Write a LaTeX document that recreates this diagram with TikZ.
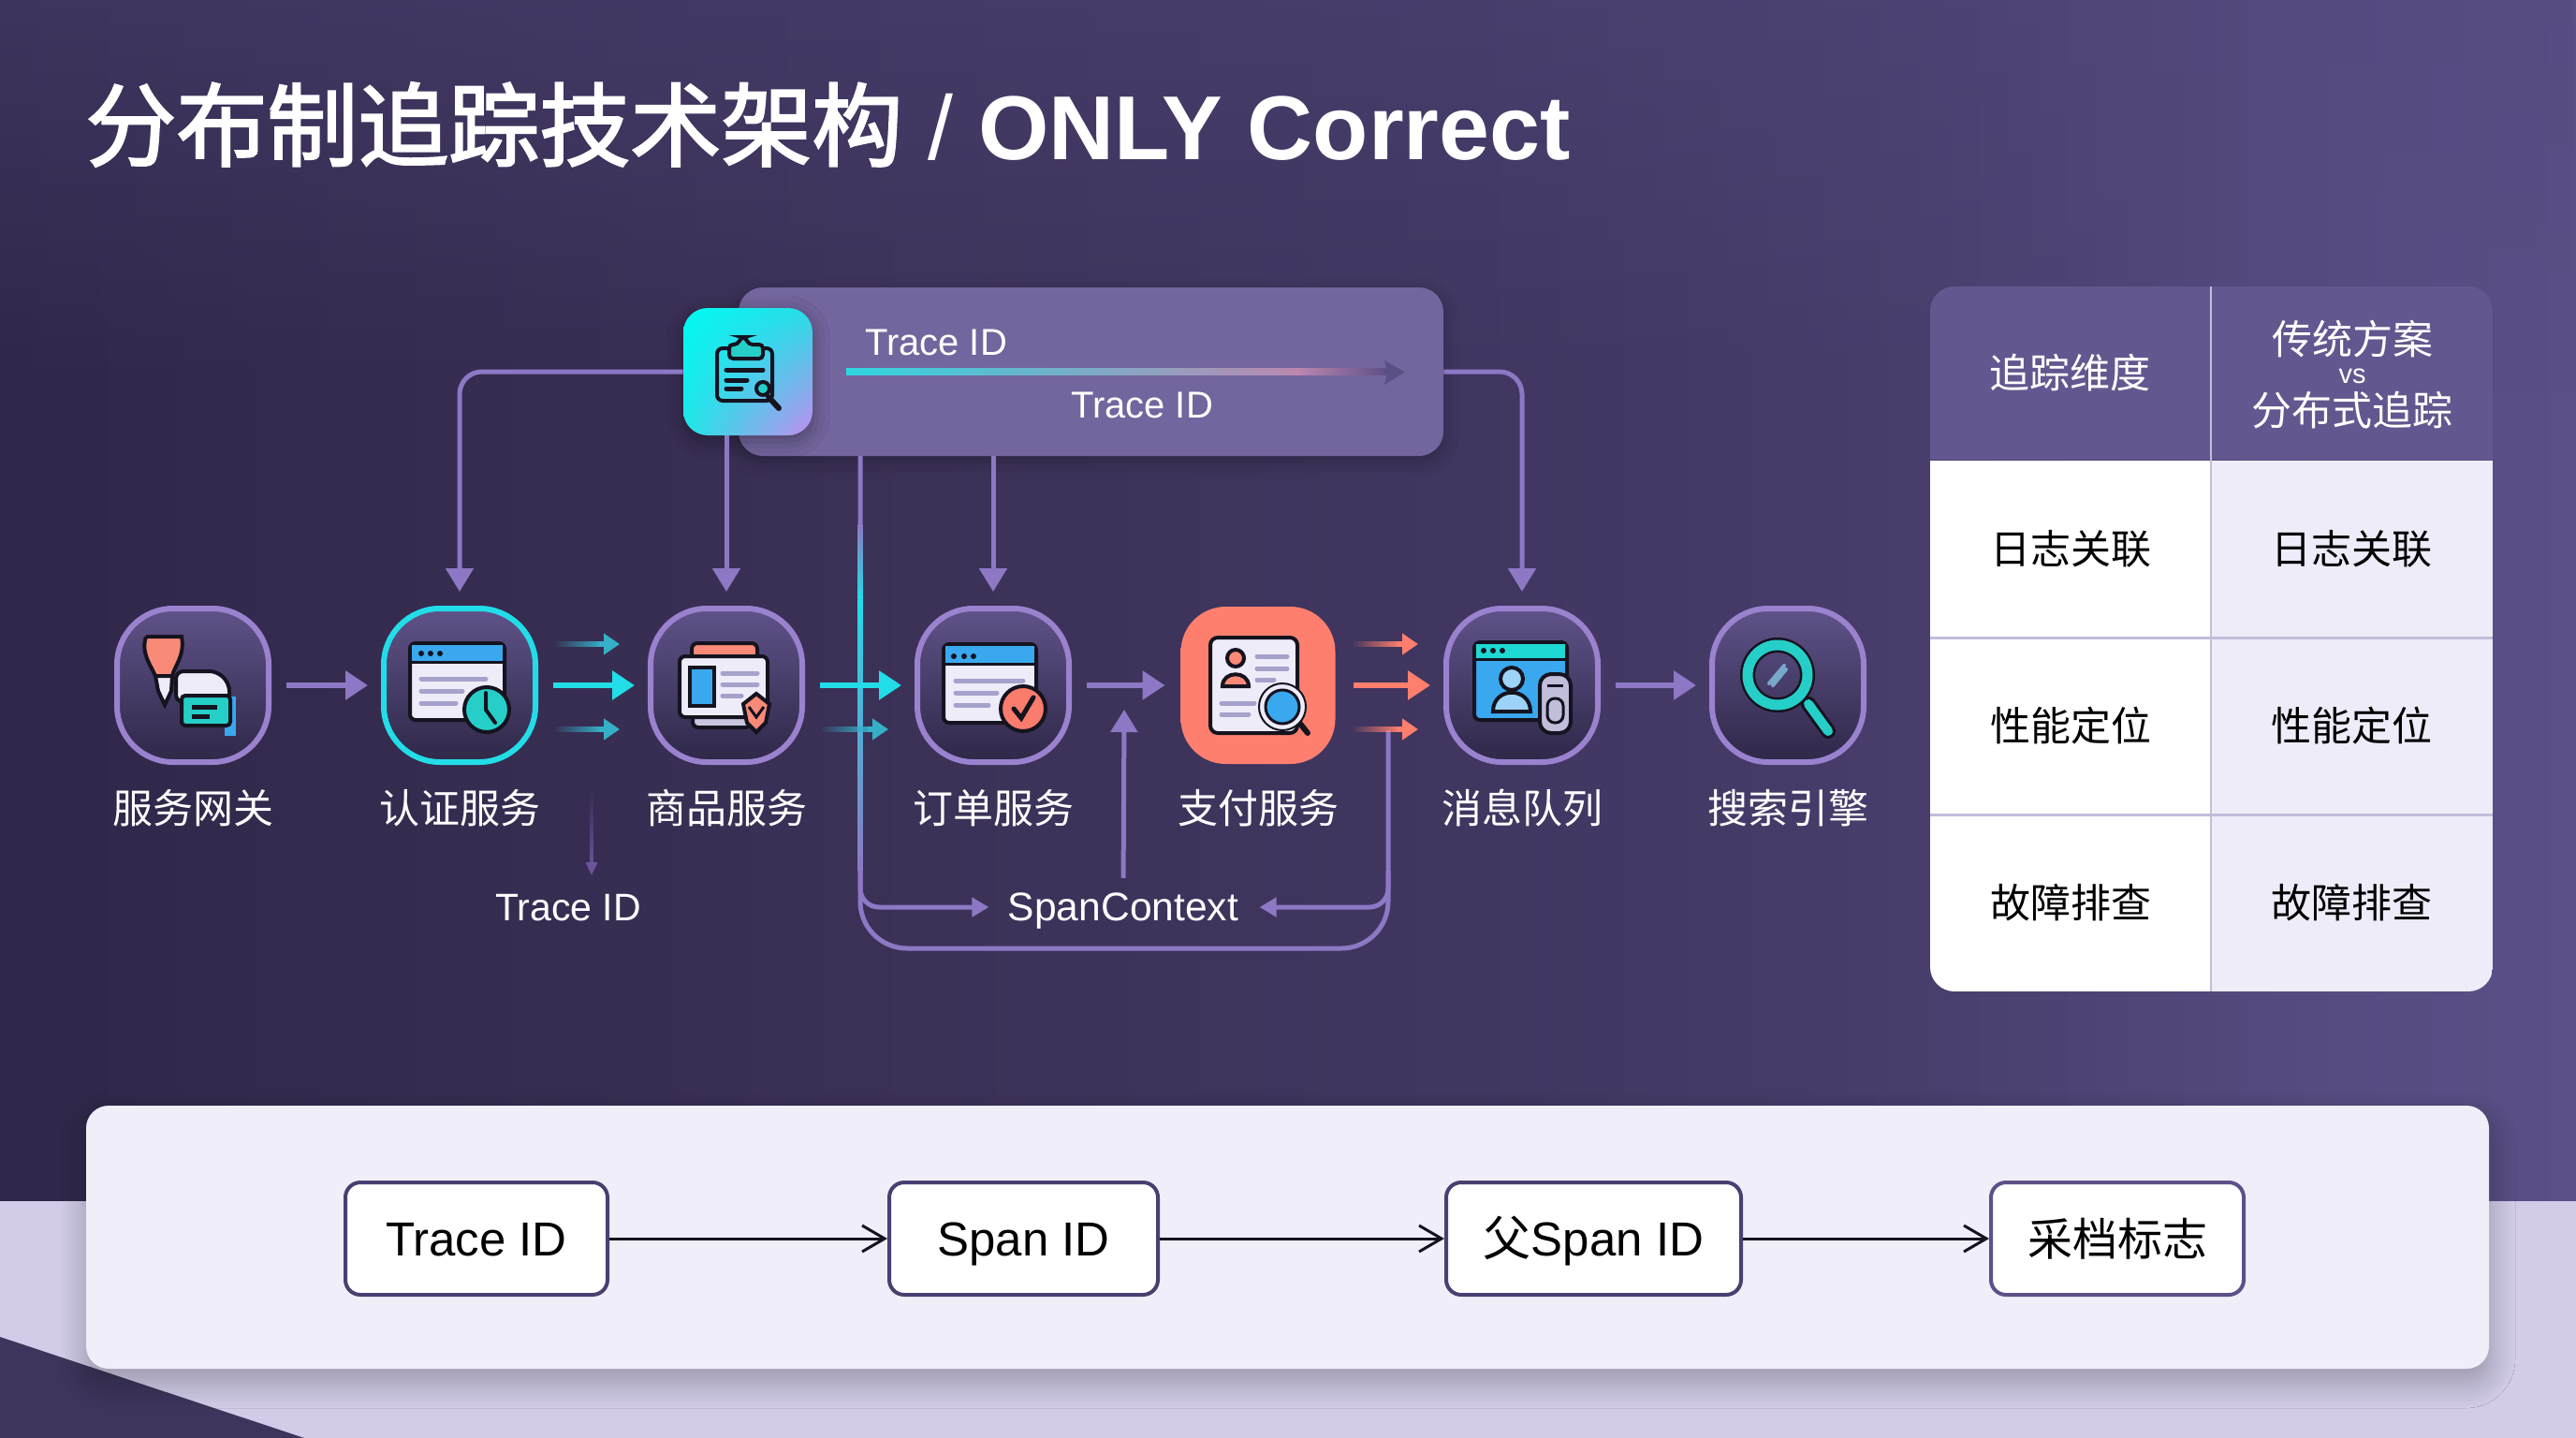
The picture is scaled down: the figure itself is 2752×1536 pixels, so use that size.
\documentclass[tikz,border=0pt]{standalone}
\usepackage{fontspec}
\setmainfont{Liberation Sans}
\newfontfamily\cjk{Noto Sans CJK SC}
\newfontfamily\cjktitle[FakeBold=2.2]{Noto Sans CJK SC}
\usetikzlibrary{arrows.meta,fadings,shadings,shadows.blur}

\definecolor{flowline}{HTML}{8C78C4}
\definecolor{flowcyan}{HTML}{22DDE8}
\definecolor{flowteal}{HTML}{35B0C8}
\definecolor{flowcoral}{HTML}{FF7F6E}
\definecolor{nodeedge}{HTML}{9A82CF}
\definecolor{nodetop}{HTML}{5F5289}
\definecolor{nodebot}{HTML}{2F2848}
\definecolor{inkdark}{HTML}{15131F}
\definecolor{winblue}{HTML}{3AA8EE}
\definecolor{winbody}{HTML}{EEECF8}
\definecolor{winline}{HTML}{A5A2CC}
\definecolor{iconteal}{HTML}{25CFC8}
\definecolor{iconcoral}{HTML}{F98A78}
\definecolor{bandcolor}{HTML}{D2CCE8}
\definecolor{boxedge}{HTML}{4A3F70}
\definecolor{bga}{HTML}{2F2749}
\definecolor{bgb}{HTML}{3C3157}
\definecolor{bgc}{HTML}{403660}
\definecolor{bgd}{HTML}{483D6B}
\definecolor{bge}{HTML}{574C82}
\definecolor{bgf}{HTML}{5A4F86}
\definecolor{bgtop}{HTML}{54497E}
\definecolor{panelfill}{HTML}{73659D}
\definecolor{headfill}{HTML}{64578F}
\definecolor{stripfill}{HTML}{F0EEF9}
\definecolor{gradmid}{HTML}{BC88B0}
\definecolor{gradend}{HTML}{5C4F86}
\definecolor{gradstart}{HTML}{30D5E0}
\definecolor{faint}{HTML}{6A559C}
\definecolor{trcorner}{HTML}{C48CF0}
\definecolor{trul}{HTML}{00FAF2}
\definecolor{trur}{HTML}{28DCE6}
\definecolor{trll}{HTML}{1EE6E6}

\pgfdeclarehorizontalshading{bgshade}{100bp}{color(0bp)=(bga); color(25bp)=(bga); color(43bp)=(bgb); color(53.5bp)=(bgc); color(62bp)=(bgd); color(70.5bp)=(bge); color(75bp)=(bgf); color(100bp)=(bgf)}

\tikzfading[name=fade in, left color=transparent!100, right color=transparent!0]
\tikzfading[name=fade down, top color=transparent!100, bottom color=transparent!0]
\tikzfading[name=fade top, top color=transparent!60, bottom color=transparent!100]

\tikzset{
	svc/.style={minimum width=81pt, minimum height=82pt, rounded corners=30pt, inner sep=0pt,
		draw=nodeedge, line width=3pt, top color=nodetop, bottom color=nodebot},
	svccyan/.style={svc, draw=flowcyan},
	svccoral/.style={svc, draw=none, top color=flowcoral, bottom color=flowcoral, minimum width=82.5pt, minimum height=84pt, rounded corners=24pt},
	cjklabel/.style={font=\cjk\fontsize{21.5}{21.5}\selectfont, text=white, inner sep=0pt, text height=19pt, text depth=2.5pt},
	latlabel/.style={font=\fontsize{20.5}{20.5}\selectfont, text=white, inner sep=0pt, text height=14.7pt, text depth=0pt},
	flow/.style={line width=3pt, shorten <=8pt, shorten >=7pt, -{Triangle[length=12pt,width=15pt]}},
	sidefade/.style={line width=3pt, path fading=fade in},
	sidetip/.style={line width=3pt, -{Triangle[length=8.5pt,width=11pt]}},
	down/.style={line width=2.5pt, flowline, rounded corners=12pt, -{Triangle[length=12.5pt,width=14.5pt]}},
	ctx/.style={line width=2.5pt, flowline, rounded corners=10pt, -{Triangle[length=9pt,width=10pt]}},
	field/.style={draw=boxedge, line width=2pt, fill=white, rounded corners=8pt, minimum height=60pt, inner sep=0pt,
		font=\fontsize{25.5}{25.5}\selectfont, text=black, text height=18.3pt, text depth=0pt},
	fieldarrow/.style={line width=1.5pt, inkdark, -{Straight Barb[length=12pt,width=14pt,line width=1.5pt]}},
	ink/.style={draw=inkdark, line width=2pt},
	bar/.style={line width=2.5pt, winline, line cap=round},
	cell/.style={minimum width=150pt, minimum height=94.5pt, inner sep=0pt, font=\cjk\fontsize{21.5}{21.5}\selectfont, text=black}
}

\begin{document}
\begin{tikzpicture}[x=0.5pt,y=-0.5pt]
	\useasboundingbox (0,0) rectangle (2752,1536);

	% background
	\shade[shading=bgshade] (0,0) rectangle (2752,1536);
	\fill[bgtop, path fading=fade top] (0,0) rectangle (2752,420);

	% light band with the dark corner
	\fill[bandcolor] (0,1283) -- (2752,1283) -- (2752,1536) -- (0,1536) -- cycle;
	\fill[nodebot!70!nodetop] (0,1428) -- (325,1536) -- (0,1536) -- cycle;

	% title
	\node[anchor=base west, inner sep=0pt, text=white] (title) at (91,170)
		{\fontsize{48.5}{48.5}\selectfont{\cjktitle 分布制追踪技术架构} / \bfseries ONLY Correct};

	% top panel
	\node[minimum width=376.5pt, minimum height=90pt, rounded corners=13pt, fill=panelfill,
		blur shadow={shadow xshift=0pt, shadow yshift=-3pt, shadow blur radius=8pt, shadow opacity=25}] (panel) at (1165.5,397) {};

	% services
	\foreach \x/\cx/\name/\look in {1/206/服务网关/svc,2/491/认证服务/svccyan,3/776/商品服务/svc,4/1061/订单服务/svc,5/1344/支付服务/svccoral,6/1626/消息队列/svc,7/1910/搜索引擎/svc}
	{
		\node[\look] (n_\x) at (\cx,732) {};
		\node[cjklabel] (lab_\x) at (\cx,863) {\name};
	}

	% trace icon
	\node[minimum width=69pt, minimum height=68pt, rounded corners=13pt, inner sep=0pt,
		upper left=trul, upper right=trur, lower left=trll, lower right=trcorner,
		blur shadow={shadow xshift=0pt, shadow yshift=-3pt, shadow blur radius=9pt, shadow opacity=35}] (tracer) at (799,397) {};
	\draw[ink, rounded corners=3pt] (766,372) rectangle (825,428);
	\draw[ink, fill=iconteal, rounded corners=2pt] (779,383) -- (779,368) -- (788,368) -- (792,360) -- (796,360) -- (800,368) -- (815,368) -- (815,383) -- cycle;
	\foreach \y/\e in {395/815,406/798,415/792}
		\draw[inkdark, line width=2.5pt, line cap=round] (776,\y) -- (\e,\y);
	\draw[ink, fill=iconteal] (815,415) circle (7);
	\draw[inkdark, line width=3pt, line cap=round] (821,424) -- (832,436);

	% gradient arrow in the panel
	\shade[left color=gradstart, right color=gradmid] (904,393.5) rectangle (1385,400.5);
	\shade[left color=gradmid, right color=gradend] (1385,393.5) rectangle (1482,400.5);
	\fill[gradend] (1479,385) -- (1501,397.5) -- (1479,411) -- (1482,397.5) -- cycle;
	\node[latlabel, font=\fontsize{20}{20}\selectfont] (tr_a) at (1000,365) {Trace ID};
	\node[latlabel, font=\fontsize{20}{20}\selectfont] (tr_b) at (1220,432) {Trace ID};

	% links from the panel down to the services
	\coordinate (in_2) at (491,632);
	\coordinate (in_3) at (776,632);
	\coordinate (in_4) at (1061,632);
	\coordinate (in_6) at (1626,632);
	\draw[down] (tracer.west) -| (in_2);
	\draw[down] (tracer.south -| in_3) -- (in_3);
	\draw[down] (panel.south -| in_4) -- (in_4);
	\draw[down] (panel.east) -| (in_6);

	% loop round the lower part
	\coordinate (lp_a) at (919,487);
	\coordinate (lp_b) at (919,1013);
	\coordinate (lp_c) at (1483,1013);
	\coordinate (lp_d) at (1483,780);
	\draw[line width=2.5pt, flowline, rounded corners=25pt] (lp_a) -- (lp_b) -- (lp_c) -- (lp_d);
	\shade[top color=flowline, bottom color=flowcyan] (916.5,560) rectangle (921.5,640);
	\shade[top color=flowcyan, bottom color=flowline] (916.5,640) rectangle (921.5,930);

	% SpanContext
	\node[latlabel, font=\fontsize{21.3}{21.3}\selectfont] (span_ctx) at (1200,969) {SpanContext};
	\coordinate (ctx_l) at (919,930);
	\coordinate (ctx_r) at (1483,930);
	\coordinate (ctx_up) at (1201,758);
	\draw[ctx, shorten >=10pt] (ctx_l) |- (span_ctx.west);
	\draw[ctx, shorten >=11pt] (ctx_r) |- (span_ctx.east);
	\draw[ctx, shorten <=8pt, -{Triangle[length=12pt,width=14pt]}] (span_ctx.north) -- (ctx_up);

	% faint Trace ID arrow
	\node[latlabel] (tr_c) at (607,969) {Trace ID};
	\coordinate (faint_a) at (632,847);
	\coordinate (faint_m) at (632,925);
	\coordinate (faint_b) at (632,935);
	\draw[line width=2pt, faint, path fading=fade down] (faint_a) -- (faint_m);
	\draw[line width=2pt, faint, -{Triangle[length=7pt,width=6pt]}] (faint_m) -- (faint_b);

	% arrows between the services
	\foreach \a/\b/\col in {1/2/flowline,2/3/flowcyan,3/4/flowcyan,4/5/flowline,5/6/flowcoral,6/7/flowline}
	{
		\draw[flow, \col] (n_\a) -- (n_\b);
	}
	\foreach \sx/\mx/\ex/\sy/\col in {594/640/662/688/flowteal,594/640/662/779/flowteal,878/927/949/779/flowteal,1446/1493/1515/688/flowcoral,1446/1493/1515/779/flowcoral}
	{
		\coordinate (s_a) at (\sx,\sy);
		\coordinate (s_m) at (\mx,\sy);
		\coordinate (s_b) at (\ex,\sy);
		\draw[sidefade, \col] (s_a) -- (s_m);
		\draw[sidetip, \col] (s_m) -- (s_b);
	}

	% icon of the gateway
	\draw[ink, fill=iconcoral] (156,680) -- (194,680) .. controls (198,700) and (186,712) .. (184,722) -- (166,722) .. controls (162,712) and (150,698) .. (156,680);
	\draw[ink, fill=winbody] (166,722) -- (184,722) -- (183,738) -- (176,753) -- (169,738) -- cycle;
	\draw[ink, fill=winbody, rounded corners=4pt] (188,717) -- (232,717) -- (245,730) -- (245,750) -- (188,750) -- cycle;
	\fill[winblue] (240,744) rectangle (252,786);
	\draw[ink, fill=iconteal, rounded corners=2pt] (194,743) rectangle (246,775);
	\draw[inkdark, line width=2.5pt] (205,755) -- (232,755) (205,765) -- (224,765);

	% icon of the auth service
	\draw[ink, fill=winbody, rounded corners=3pt] (438,687) rectangle (539,769);
	\fill[winblue] (440,689) rectangle (537,707);
	\draw[inkdark, line width=1.5pt] (439,707) -- (538,707);
	\foreach \d in {450,460,470}
		\fill[inkdark] (\d,698) circle (3);
	\draw[bar] (450,725) -- (519,725) (450,738) -- (494,738) (450,751) -- (487,751);
	\draw[ink, fill=iconteal] (520,758) circle (24);
	\draw[inkdark, line width=2pt, line cap=round] (519,740) -- (519,758) -- (529,772);

	% icon of the product service
	\draw[ink, fill=iconcoral, rounded corners=3pt] (739,687) rectangle (809,705);
	\draw[ink, fill=winline!60!white, rounded corners=3pt] (740,760) rectangle (802,777);
	\draw[ink, fill=winbody, rounded corners=3pt] (726,701) rectangle (820,766);
	\draw[ink, fill=winblue] (737,713) rectangle (763,754);
	\draw[bar] (772,719) -- (809,719) (772,731) -- (809,731) (772,743) -- (792,743);
	\draw[ink, fill=iconcoral] (808,741) -- (822,752) -- (818,772) -- (808,782) -- (798,772) -- (794,752) -- cycle;
	\draw[inkdark, line width=1.5pt] (800,755) -- (808,766) -- (816,755);

	% icon of the order service
	\draw[ink, fill=winbody, rounded corners=3pt] (1008,688) rectangle (1107,772);
	\fill[winblue] (1010,690) rectangle (1105,709);
	\draw[inkdark, line width=1.5pt] (1009,709) -- (1106,709);
	\foreach \d in {1019,1030,1040}
		\fill[inkdark] (\d,701) circle (3);
	\draw[bar] (1021,727) -- (1093,727) (1021,740) -- (1065,740) (1021,753) -- (1056,753);
	\draw[ink, fill=iconcoral!90!red] (1093,757) circle (24);
	\draw[inkdark, line width=2.5pt, line cap=round] (1083,757) -- (1091,767) -- (1104,745);

	% icon of the payment service
	\draw[ink, fill=winbody, rounded corners=4pt] (1293,681) rectangle (1386,783);
	\draw[ink, fill=iconcoral] (1320,703) circle (9);
	\draw[ink, fill=iconcoral] (1306,733) .. controls (1306,716) and (1334,716) .. (1334,733) -- cycle;
	\draw[bar] (1343,701) -- (1375,701) (1343,714) -- (1375,714) (1343,726) -- (1361,726) (1305,751) -- (1340,751) (1305,763) -- (1334,763);
	\draw[inkdark, line width=3pt, line cap=round] (1385,768) -- (1397,783);
	\draw[inkdark, line width=1pt, fill=winbody] (1370,755) circle (25);
	\draw[inkdark, line width=1.5pt, fill=winblue] (1370,755) circle (18);

	% icon of the message queue
	\draw[ink, fill=winblue, rounded corners=3pt] (1575,686) rectangle (1674,769);
	\fill[iconteal!80!cyan] (1577,688) rectangle (1672,703);
	\draw[inkdark, line width=1.5pt] (1576,704) -- (1673,704);
	\foreach \d in {1585,1595,1605}
		\fill[inkdark] (\d,695) circle (3);
	\draw[ink, fill=winblue!50!white] (1615,725) circle (12);
	\draw[ink, fill=winblue!50!white] (1595,760) .. controls (1595,733) and (1635,733) .. (1635,760) -- cycle;
	\draw[ink, fill=winline!70!white, rounded corners=6pt] (1645,720) rectangle (1678,783);
	\draw[inkdark, line width=1.5pt, rounded corners=4pt] (1653,746) rectangle (1670,772);
	\draw[inkdark, line width=1.5pt] (1653,732) -- (1670,732);

	% icon of the search engine
	\draw[inkdark, line width=8pt, line cap=round] (1932,752) -- (1953,781);
	\draw[iconteal, line width=5pt, line cap=round] (1932,752) -- (1953,781);
	\draw[inkdark, line width=8pt] (1899,721) circle (32);
	\draw[iconteal, line width=5.5pt] (1899,721) circle (32);
	\draw[winline!60!flowteal, line width=2pt, line cap=round] (1890,730) -- (1906,711) (1894,732) -- (1908,715);

	% table on the right
	\begin{scope}
		\clip[rounded corners=13pt] (2062,306) rectangle (2663,1059);
		\node[cell, fill=headfill, minimum height=92.5pt, text=white] (head_1) at (2212,398.5) {};
		\node[cell, fill=headfill, minimum height=92.5pt, text=white] (head_2) at (2512.5,398.5) {};
		\foreach \r/\cy/\txt in {1/586/日志关联,2/775.5/性能定位,3/964.5/故障排查}
		{
			\node[cell, fill=white] (c_\r_1) at (2212,\cy) {\txt};
			\node[cell, fill=winbody] (c_\r_2) at (2512.5,\cy) {\txt};
		}
		\draw[winline!70!white, line width=1pt] (2362,306) -- (2362,1059);
		\draw[winline!70!white, line width=1.5pt] (2062,681) -- (2663,681) (2062,870) -- (2663,870);
	\end{scope}
	\node[cjklabel] (h_a) at (2211,398) {追踪维度};
	\node[cjklabel] (h_b) at (2513,362) {传统方案};
	\node[font=\fontsize{14.5}{14.5}\selectfont, text=white, inner sep=0pt] (h_v) at (2513,402) {vs};
	\node[cjklabel] (h_c) at (2513,438) {分布式追踪};

	% fields at the bottom
	\node[minimum width=1283.5pt, minimum height=140.5pt, rounded corners=12pt, fill=stripfill,
		blur shadow={shadow xshift=0pt, shadow yshift=-7pt, shadow blur radius=14pt, shadow blur steps=25, shadow opacity=28}] (strip) at (1375.5,1321.5) {};
	\node[field, minimum width=140pt] (f_1) at (509,1323) {Trace ID};
	\node[field, minimum width=143.5pt] (f_2) at (1093.5,1323) {Span ID};
	\node[field, minimum width=157.5pt] (f_3) at (1702.5,1323) {{\cjk 父}Span ID};
	\node[field, minimum width=135pt, draw=boxedge!70!flowline] (f_4) at (2262,1323) {{\cjk\fontsize{24}{24}\selectfont 采档标志}};
	\foreach \a/\b in {1/2,2/3,3/4}
	{
		\draw[fieldarrow] (f_\a) -- (f_\b);
	}
\end{tikzpicture}
\end{document}
